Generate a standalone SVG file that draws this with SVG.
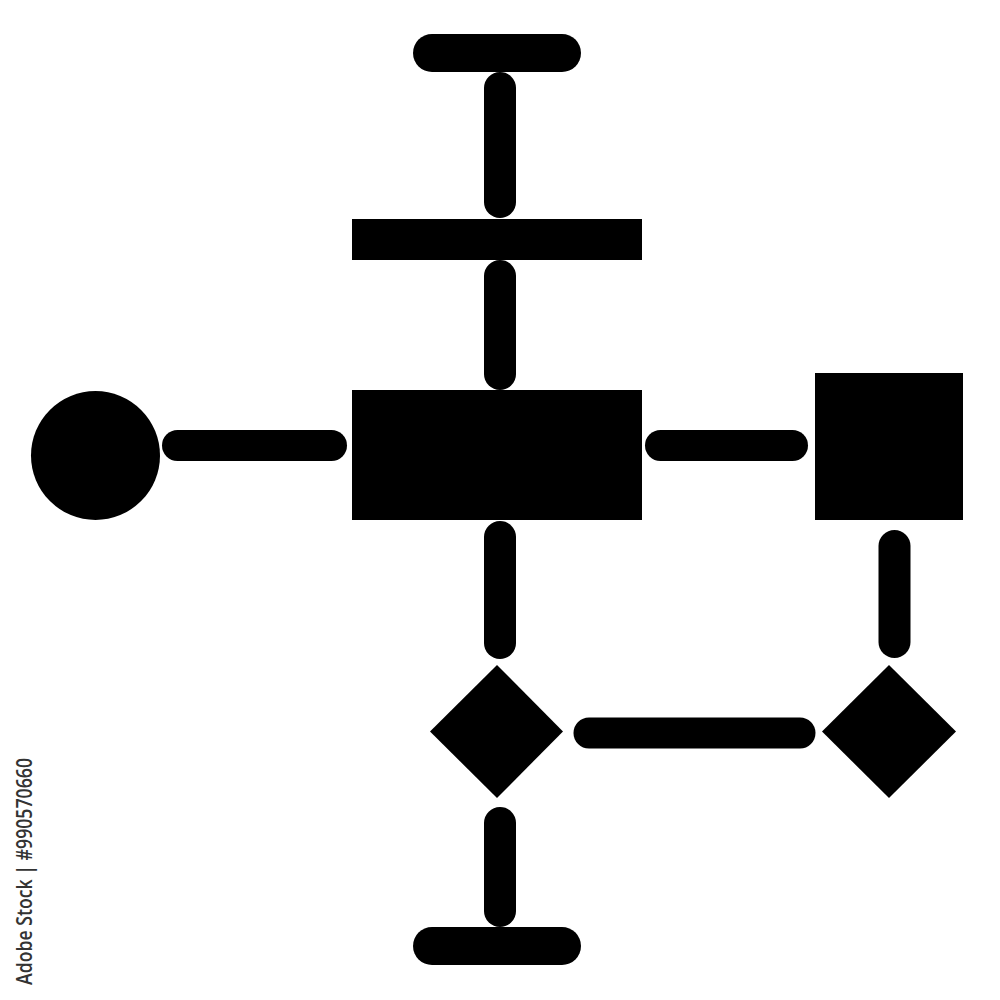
<svg xmlns="http://www.w3.org/2000/svg" width="1000" height="1000" viewBox="0 0 1000 1000">
  <style>
    .shape { fill: #000; }
    .conn { stroke: #000; stroke-linecap: round; fill: none; }
    .v { stroke-width: 32; }
    .h { stroke-width: 31; }
    .side { font-family: "Open Sans", "Liberation Sans", sans-serif; font-size: 22px; font-weight: 600; fill: #333; }
  </style>
  <rect x="0" y="0" width="1000" height="1000" fill="#fff"/>

  <g id="connectors">
    <line class="conn v" x1="500" y1="88" x2="500" y2="202"/>
    <line class="conn v" x1="500" y1="276" x2="500" y2="374"/>
    <line class="conn v" x1="500" y1="537" x2="500" y2="643"/>
    <line class="conn v" x1="500" y1="823" x2="500" y2="911"/>
    <line class="conn v" x1="894.5" y1="546" x2="894.5" y2="642"/>
    <line class="conn h" x1="177.5" y1="445.5" x2="331.5" y2="445.5"/>
    <line class="conn h" x1="660.5" y1="445.5" x2="792.5" y2="445.5"/>
    <line class="conn h" x1="589" y1="733" x2="800" y2="733"/>
  </g>

  <g id="top-terminal">
    <rect class="shape" x="413" y="34" width="168" height="38" rx="19"/>
  </g>
  <g id="bar">
    <rect class="shape" x="352" y="219" width="290" height="41"/>
  </g>
  <g id="main-process">
    <rect class="shape" x="352" y="390" width="290" height="130"/>
  </g>
  <g id="start-circle">
    <circle class="shape" cx="95.5" cy="455.5" r="64.5"/>
  </g>
  <g id="square">
    <rect class="shape" x="815" y="373" width="148" height="147"/>
  </g>
  <g id="decision-left">
    <polygon class="shape" points="497,665 563,731.5 497,798 430,731.5"/>
  </g>
  <g id="decision-right">
    <polygon class="shape" points="889,665 956,731.5 889,798 822,731.5"/>
  </g>
  <g id="bottom-terminal">
    <rect class="shape" x="413" y="927" width="168" height="38" rx="19"/>
  </g>

  <text class="side" transform="translate(32,985) rotate(-90)" textLength="227" lengthAdjust="spacingAndGlyphs">Adobe Stock | #990570660</text>
</svg>
